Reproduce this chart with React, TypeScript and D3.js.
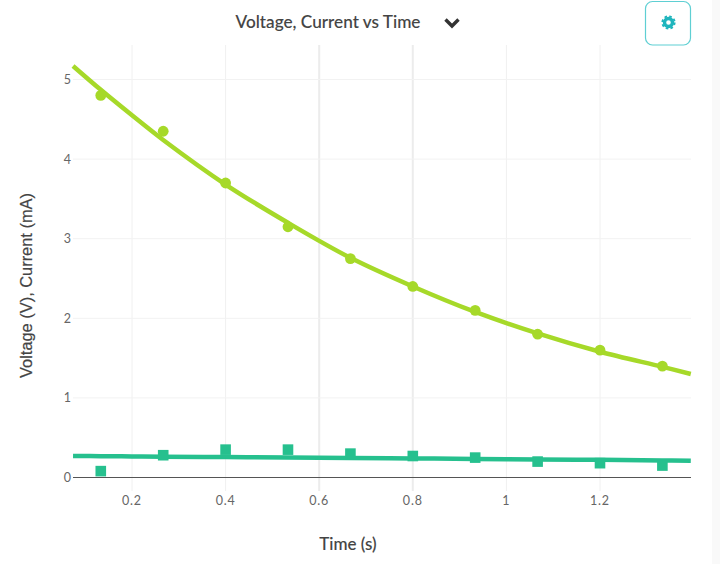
import React from "react";
import * as d3 from "d3";

const sampleTimes = [0.1333, 0.2667, 0.4, 0.5333, 0.6667, 0.8, 0.9333, 1.0667, 1.2, 1.3333];
const voltage = [4.8, 4.35, 3.7, 3.15, 2.75, 2.4, 2.1, 1.8, 1.6, 1.4];
const current = [0.08, 0.28, 0.35, 0.35, 0.3, 0.27, 0.25, 0.2, 0.18, 0.15];
const fitTimes = [0.074, 0.1333, 0.2, 0.2667, 0.4, 0.5333, 0.6667, 0.8, 0.9333, 1.0667, 1.2, 1.3333, 1.394];
const voltageFit = [5.17, 4.87, 4.55, 4.24, 3.68, 3.2, 2.76, 2.4, 2.08, 1.81, 1.58, 1.39, 1.3];
const currentFit = [0.27, 0.268, 0.265, 0.262, 0.257, 0.25, 0.245, 0.24, 0.233, 0.227, 0.222, 0.215, 0.21];
const xTicks = [0.2, 0.4, 0.6, 0.8, 1, 1.2];
const yTicks = [0, 1, 2, 3, 4, 5];

const FONT = "Lato, 'Open Sans', sans-serif";
const LIME = "#a6d929";
const TEAL = "#26c08e";

export default function App() {
  const x = d3.scaleLinear().domain([0.2, 1.2]).range([132, 600]);
  const y = d3.scaleLinear().domain([0, 5]).range([477.5, 79.5]);
  const line = d3.line<number>()
    .x((_, i) => x(fitTimes[i]))
    .y((d) => y(d))
    .curve(d3.curveCatmullRom);
  const left = 73, right = 691, top = 45, bottom = 491;
  const wide = (t: number) => t === 0.6 || t === 0.8;
  return (
    <svg width={720} height={564} style={{ position: "absolute", left: 0, top: 0, background: "#fff" }}>
      <rect x={712} y={0} width={8} height={564} fill="#f9f9f9" />
      {xTicks.map((t) => (
        <g key={t}>
          <line x1={x(t)} x2={x(t)} y1={top} y2={bottom}
            stroke={wide(t) ? "#ececec" : "#f0f0f0"} strokeWidth={wide(t) ? 2 : 1} />
          <text x={x(t)} y={505} textAnchor="middle" fontFamily={FONT} fontSize={12.5} fill="#666" letterSpacing={0.8}>{t}</text>
        </g>
      ))}
      {yTicks.map((t) => (
        <g key={t}>
          <line x1={left} x2={right} y1={y(t)} y2={y(t)}
            stroke={t === 0 ? "#555" : "#f2f2f2"} strokeWidth={1} />
          <text x={71} y={y(t) + 4.5} textAnchor="end" fontFamily={FONT} fontSize={12.5} fill="#666">{t}</text>
        </g>
      ))}
      <path d={line(voltageFit) ?? ""} fill="none" stroke={LIME} strokeWidth={4.5} />
      <path d={line(currentFit) ?? ""} fill="none" stroke={TEAL} strokeWidth={4.5} />
      {voltage.map((v, i) => (
        <circle key={i} cx={x(sampleTimes[i])} cy={y(v)} r={5.4} fill={LIME} />
      ))}
      {current.map((v, i) => (
        <rect key={i} x={x(sampleTimes[i]) - 5.3} y={y(v) - 5.3} width={10.6} height={10.6} fill={TEAL} />
      ))}
      <text x={328} y={28} textAnchor="middle" fontFamily={FONT} fontSize={17.2} fontWeight={500} fill="#444" stroke="#444" strokeWidth={0.1}>Voltage, Current vs Time</text>
      <path d="M445.5 19.5 L452 26 L458.5 19.5" fill="none" stroke="#333" strokeWidth={3.4} />
      <rect x={645.5} y={1.5} width={45} height={43.5} rx={7} fill="#fff" stroke="#5fcfd3" strokeWidth={1.2} />
      <circle cx={668.5} cy={22.5} r={4} fill="none" stroke="#1fb5bd" strokeWidth={3.4} />
      <circle cx={668.5} cy={22.5} r={6.2} fill="none" stroke="#1fb5bd" strokeWidth={1.8} strokeDasharray="2.6 2.27" />
      <text x={348} y={550} textAnchor="middle" fontFamily={FONT} fontSize={17} fontWeight={500} fill="#444" stroke="#444" strokeWidth={0.1}>Time (s)</text>
      <text transform="translate(32,285.5) rotate(-90)" textAnchor="middle" fontFamily="'Liberation Sans', Arial, sans-serif" fontSize={16.4} fill="#444" stroke="#444" strokeWidth={0.2}>Voltage (V), Current (mA)</text>
    </svg>
  );
}
